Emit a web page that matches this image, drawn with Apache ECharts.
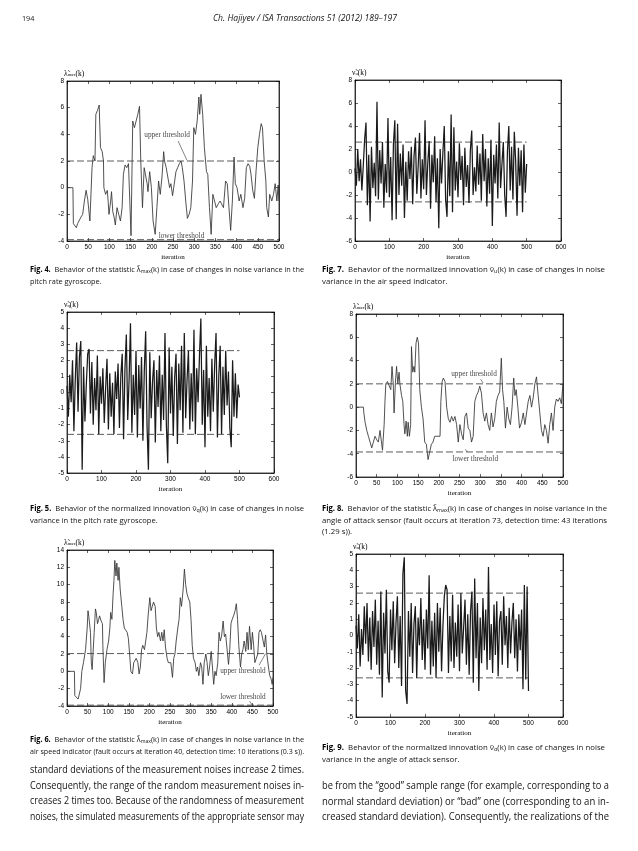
<!DOCTYPE html>
<html><head><meta charset="utf-8">
<script src="https://cdn.jsdelivr.net/npm/echarts@6/dist/echarts.min.js"></script>
<style>html,body{margin:0;padding:0;background:#fff;}#c{width:638px;height:851px;}</style>
</head><body><div id="c"></div><script>
// ---------- DATA ----------
// Fig.4 lambda_max (pitch rate gyro): [iteration, value]
const fig4Lambda = [[0,0],[14,0],[15,-2.7],[22,-3.0],[25,-2.7],[29,-2.6],[33,-2.2],[37,-2.0],[41,-1.0],[45,-0.2],[49,-0.9],[51,-1.0],[54,-2.5],[56,-2.4],[59,1.5],[62,2.4],[66,2.0],[68,5.5],[72,5.8],[76,6.2],[77,5.0],[79,3.0],[83,2.7],[86,2.0],[87,0],[91,-0.5],[95,-0.2],[97,-1.0],[99,-2.0],[103,-1.0],[105,-0.3],[108,-1.8],[111,-2.2],[114,-2.8],[118,-1.5],[122,-2.0],[126,-2.5],[130,-1.5],[133,1.0],[137,1.7],[141,1.5],[145,1.8],[147,1.7],[151,-3.6],[155,5.0],[159,4.5],[163,5.0],[167,5.5],[171,6.1],[174,2.0],[178,-1.5],[182,1.5],[185,1.6],[189,0.3],[191,-0.3],[195,1.2],[199,0.0],[203,-2.5],[208,-3.5],[212,-1.5],[216,0.5],[220,-0.5],[224,0.8],[228,2.7],[230,2.0],[234,1.5],[238,1.4],[242,0.0],[245,0.3],[249,-0.6],[253,-0.5],[257,1.2],[261,1.5],[265,1.8],[269,2.0],[272,1.5],[276,0.5],[280,-1.0],[284,-2.3],[288,-2.0],[292,-1.5],[296,0.5],[299,4.5],[303,4.0],[307,5.0],[311,6.8],[313,5.5],[316,7.0],[320,5.5],[324,3.0],[329,1.2],[332,1.0],[336,-1.5],[340,-3.5],[344,-0.5],[348,-1.0],[352,-1.5],[357,-1.2],[361,-1.0],[369,-1.5],[374,0.5],[378,0.3],[382,-1.5],[386,-3.2],[390,-1.0],[394,2.3],[397,0.3],[401,0.0],[406,-1.0],[410,-0.5],[415,-1.5],[419,-0.8],[423,1.5],[427,1.8],[431,1.6],[434,1.0],[438,-0.2],[442,-0.8],[446,1.3],[450,3.0],[454,4.0],[458,4.8],[461,4.5],[465,2.0],[469,0.5],[471,-1.5],[475,-2.2],[478,-0.5],[483,-1.0],[487,-0.5],[491,0.3],[495,-1.0],[498,0.2],[500,-1.0]];
const fig4Thresholds = [2, -3.9];
const fig4Notes = [{text:'upper threshold', at:[236,3.95]}, {text:'lower threshold', at:[270,-3.62]}];
const fig4Leaders = [[[262,3.5],[283,2.05]]];

// Fig.7 normalized innovation (air speed), one sample every 4 iterations
const fig7Noise = [0.3,-1.2,2.0,-0.8,1.1,-1.6,0.5,2.8,4.3,-2.9,
 1.5,-4.3,2.2,-1.4,0.8,-2.1,6.1,-2.4,1.9,-1.0,
 2.6,-3.1,0.7,-1.8,4.7,-2.2,1.3,-4.2,2.5,4.5,
 -4.1,4.2,-2.0,1.6,-1.2,2.4,-4.0,0.9,-2.5,1.8,
 -0.6,2.2,-2.8,1.4,3.0,-1.9,0.5,3.4,-2.3,1.1,
 -1.5,4.5,-2.0,0.8,2.7,-3.2,1.5,-0.9,3.1,-2.6,
 1.2,-4.9,2.0,-1.0,1.7,4.0,-2.4,-3.9,1.8,-2.1,
 5.0,-3.5,3.9,-1.6,0.9,-2.2,2.5,-0.7,1.4,-2.9,
 2.1,-1.3,0.6,-2.7,1.9,3.6,-2.0,0.4,-1.7,2.3,
 -1.1,1.6,-2.5,3.3,-0.8,2.0,-3.0,1.2,-1.9,2.8,
 -4.7,1.5,-1.0,2.4,-2.3,4.3,-1.4,0.7,2.6,-2.0,
 -3.9,1.8,4.0,-1.6,2.2,-2.4,3.5,0.9,-3.8,2.1,
 -1.2,1.9,-3.5,2.4,-1.8,0.7];
const fig7Thresholds = [2.6, -2.6];

// Fig.5 normalized innovation (pitch rate gyro)
const fig5Noise = [0.4,-1.5,1.1,-0.6,2.0,-2.4,0.8,3.1,-1.2,2.2,
 3.2,-4.8,1.6,-1.8,0.5,2.4,2.7,-1.3,1.9,-2.0,
 0.9,-1.1,2.3,-2.6,1.0,-0.7,1.5,-1.9,0.3,2.1,
 -2.3,1.2,-1.5,0.6,-2.6,1.3,-0.4,1.8,-2.2,1.0,
 2.4,-2.9,1.5,3.6,-1.7,0.8,4.3,-2.5,1.1,-1.4,
 2.6,-2.8,1.7,-1.0,2.2,-3.0,1.3,3.8,-2.1,-4.8,
 2.5,-1.6,0.7,2.0,-3.1,1.4,-0.9,2.3,-2.4,1.1,
 -1.7,3.7,-2.0,-4.4,2.8,-1.3,1.6,-2.7,0.9,2.4,
 -3.2,1.8,-1.1,2.9,-2.5,3.7,-1.6,0.8,2.6,-2.3,
 1.2,-1.8,3.9,-2.6,1.5,-0.6,2.3,4.6,-2.0,1.4,
 -3.4,2.9,-1.5,0.9,-2.4,2.1,-1.2,1.7,3.7,-2.8,
 1.0,2.9,-2.6,1.6,-1.4,2.6,-0.8,1.3,-2.2,-3.4,
 2.0,-1.5,1.2,-1.6,0.5,-0.3];
const fig5Thresholds = [2.6, -2.6];

// Fig.8 lambda_max (angle of attack sensor)
const fig8Lambda = [[0,0],[18,0],[19,-0.5],[22,-1.3],[26,-2.0],[30,-2.5],[34,-3.0],[38,-3.5],[42,-3.0],[46,-2.5],[50,-2.8],[54,-3.0],[58,-2.0],[62,-1.9],[64,-3.7],[68,-1.5],[70,0.5],[72,2.0],[76,2.2],[80,2.3],[84,1.5],[87,3.5],[90,2.0],[92,-0.5],[95,2.0],[98,3.5],[101,2.0],[104,3.0],[106,2.0],[110,1.0],[113,0.5],[116,-1.5],[118,-2.3],[121,-1.2],[124,-2.5],[126,-1.3],[129,-2.5],[132,-1.5],[134,5.2],[137,3.0],[140,3.5],[142,3.0],[145,5.5],[148,6.0],[151,5.5],[154,1.5],[158,0.0],[162,-1.0],[166,-3.0],[170,-3.2],[174,-4.5],[178,-4.6],[182,-3.2],[186,-3.0],[190,-2.5],[195,-2.5],[199,-2.4],[203,-2.5],[205,0.5],[208,2.2],[211,2.5],[215,2.2],[219,0.0],[223,-1.0],[227,-1.3],[231,-0.8],[235,-1.2],[239,-0.8],[243,-1.5],[247,-3.0],[251,-1.5],[255,-2.3],[259,-2.8],[263,-0.8],[267,-0.5],[271,-1.8],[275,-2.0],[279,-3.0],[283,-2.5],[287,0.5],[291,1.0],[295,1.3],[299,1.8],[303,1.2],[307,-0.5],[311,-1.2],[315,-0.5],[319,-1.5],[323,-2.0],[327,-0.5],[331,-1.7],[335,-1.0],[339,0.5],[343,1.0],[347,1.3],[351,4.2],[354,1.5],[357,0.5],[361,-1.8],[365,0.0],[369,-1.0],[373,-1.5],[377,0.0],[381,2.5],[384,1.0],[387,1.5],[391,0.0],[395,-1.8],[400,-1.3],[404,-0.5],[408,-1.5],[412,-0.5],[416,0.5],[420,1.0],[424,0.0],[428,0.8],[432,2.0],[436,2.6],[440,1.0],[444,-0.5],[448,-2.0],[452,-2.5],[456,-1.5],[460,-2.0],[464,-3.1],[468,-1.5],[472,-0.5],[476,-2.0],[480,0.0],[484,0.7],[488,0.5],[492,0.8],[496,0.3],[500,2.0]];
const fig8Thresholds = [2, -3.85];
const fig8Notes = [{text:'upper threshold', at:[285,2.85]}, {text:'lower threshold', at:[288,-4.47]}];
const fig8Leaders = [[[301,2.4],[307,2.08]], [[264,-3.62],[269,-3.85]]];

// Fig.6 lambda_max (air speed indicator)
const fig6Lambda = [[0,0],[18,0],[19,-2.8],[23,-3.0],[27,-3.2],[31,-3.4],[33,-2.0],[36,0.0],[40,1.0],[45,2.5],[49,5.0],[51,7.0],[53,6.3],[55,6.5],[57,4.5],[59,1.0],[61,0.2],[63,0.0],[66,4.5],[69,7.2],[71,6.8],[74,5.5],[77,6.0],[79,6.4],[83,5.8],[86,5.5],[87,3.0],[90,-1.3],[93,1.0],[97,2.5],[101,3.5],[104,5.0],[106,6.8],[109,6.0],[112,9.0],[114,10.5],[116,12.8],[119,11.0],[121,12.5],[124,10.5],[126,12.0],[129,9.5],[133,7.5],[136,6.0],[139,5.0],[142,4.8],[146,4.5],[149,3.8],[152,2.0],[155,0.0],[159,-0.3],[162,1.0],[165,1.2],[168,1.5],[172,1.0],[175,-0.3],[178,0.5],[181,2.5],[184,3.0],[188,2.5],[191,3.5],[194,4.5],[197,6.5],[201,8.5],[204,7.0],[207,7.5],[210,8.0],[214,7.5],[217,5.0],[220,4.0],[223,4.5],[227,3.5],[230,4.5],[233,3.5],[236,4.8],[239,2.8],[243,1.5],[246,1.0],[249,1.2],[252,1.0],[256,-0.7],[259,1.5],[262,2.0],[265,3.5],[269,5.0],[272,6.0],[275,8.5],[278,7.5],[282,9.5],[285,11.8],[288,10.0],[291,9.0],[294,8.5],[298,8.0],[301,6.0],[304,3.0],[307,1.5],[311,1.0],[314,0.0],[317,0.5],[320,-0.5],[324,1.0],[327,0.5],[330,-1.5],[333,1.0],[337,2.0],[340,1.0],[343,-0.5],[346,0.5],[350,2.3],[353,0.5],[356,-1.5],[359,0.0],[362,-0.5],[366,1.0],[369,4.5],[372,3.5],[375,4.0],[379,5.8],[382,4.0],[385,4.3],[388,2.8],[392,0.8],[395,2.5],[398,5.5],[401,6.0],[405,6.5],[408,7.0],[411,7.8],[414,6.0],[417,3.0],[421,0.5],[424,2.0],[427,2.5],[430,3.5],[434,2.3],[437,4.5],[440,2.5],[443,5.2],[447,2.5],[450,4.5],[453,3.0],[456,1.0],[460,1.0],[463,2.0],[466,4.5],[469,4.8],[472,4.5],[476,3.5],[479,2.8],[482,4.2],[485,2.0],[489,0.5],[492,-0.5],[495,-0.8],[498,-1.5],[500,-0.7]];
const fig6Thresholds = [2.05, -3.9];
const fig6Notes = [{text:'upper threshold', at:[427,0.05]}, {text:'lower threshold', at:[427,-3.0]}];
const fig6Leaders = [[[466,0.7],[482,2.05]], [[443,-3.45],[450,-3.9]]];

// Fig.9 normalized innovation (angle of attack sensor)
const fig9Noise = [0.6,-0.8,1.3,-1.9,0.4,-1.2,1.8,-0.5,2.0,-1.6,
 1.1,-2.1,1.5,-0.7,2.2,-1.8,0.9,-2.4,2.7,-3.8,
 1.4,-1.1,2.8,-2.2,-2.9,1.6,-0.9,2.1,-1.7,0.8,
 2.4,-2.0,1.2,-3.1,3.8,4.8,-3.4,-4.2,1.5,-1.3,
 2.0,-2.3,0.7,1.8,-2.6,1.1,-0.6,2.3,-1.5,1.0,
 -2.1,1.6,-0.8,3.7,-2.4,0.9,-1.9,1.4,-2.6,2.0,
 -1.0,1.7,-2.2,0.6,2.4,3.1,2.8,-2.3,1.2,-1.6,
 2.5,-2.0,0.8,-1.3,1.9,-2.2,2.6,-1.1,0.5,2.2,
 -1.8,1.3,-2.4,1.5,2.7,-2.9,3.5,-1.4,2.0,-3.4,
 1.1,-1.7,2.3,-0.9,1.6,-2.1,4.2,-1.5,0.7,-2.3,
 1.9,-1.2,2.1,-2.5,0.9,1.5,-1.8,2.4,-0.6,1.2,
 -2.0,1.7,-1.1,0.8,2.0,-1.4,1.0,-2.2,1.3,-0.9,
 1.6,-3.3,3.1,-2.7,3.0,-3.4];
const fig9Thresholds = [2.6, -2.6];
const NOISE_STEP = 4; // iterations between stored samples

const xTicks50 = [0,500,50], xTicks100 = [0,600,100];
// ---------- TEXT ----------
const headerPage = '194';
const headerJournal = 'Ch. Hajiyev / ISA Transactions 51 (2012) 189–197';
const captions = {
 fig4:['{b|Fig. 4.}  Behavior of the statistic λ̃{s|max}(k) in case of changes in noise variance in the','pitch rate gyroscope.'],
 fig7:['{b|Fig. 7.}  Behavior of the normalized innovation ν̃{s|u}(k) in case of changes in noise','variance in the air speed indicator.'],
 fig5:['{b|Fig. 5.}  Behavior of the normalized innovation ν̃{s|q}(k) in case of changes in noise','variance in the pitch rate gyroscope.'],
 fig8:['{b|Fig. 8.}  Behavior of the statistic λ̃{s|max}(k) in case of changes in noise variance in the','angle of attack sensor (fault occurs at iteration 73, detection time: 43 iterations','(1.29 s)).'],
 fig6:['{b|Fig. 6.}  Behavior of the statistic λ̃{s|max}(k) in case of changes in noise variance in the','air speed indicator (fault occurs at iteration 40, detection time: 10 iterations (0.3 s)).'],
 fig9:['{b|Fig. 9.}  Behavior of the normalized innovation ν̃{s|α}(k) in case of changes in noise','variance in the angle of attack sensor.']
};
const bodyLeft = ['standard deviations of the measurement noises increase 2 times.','Consequently, the range of the random measurement noises in-','creases 2 times too. Because of the randomness of measurement','noises, the simulated measurements of the appropriate sensor may'];
const bodyRight = ['be from the “good” sample range (for example, corresponding to a','normal standard deviation) or “bad” one (corresponding to an in-','creased standard deviation). Consequently, the realizations of the'];

// ---------- BUILD ----------
const SANS = '"Liberation Sans", Arial, sans-serif';
const SERIF = '"Liberation Serif", "Times New Roman", serif';
const TEXTF = '"Open Sans", "Noto Sans", sans-serif';
const INK = '#141414';

const panels = [
 {rect:{left:67,top:81,width:212,height:160}, x:xTicks50, y:[-4,8,2], name:'{a|λ̃}{s|max}{a|(k)}', lambda:fig4Lambda, thr:fig4Thresholds, notes:fig4Notes, leaders:fig4Leaders},
 {rect:{left:355,top:80,width:206,height:161}, x:xTicks100, y:[-6,8,2], name:'{a|ν̃}{s|u}{a|(k)}', noise:fig7Noise, thr:fig7Thresholds},
 {rect:{left:67,top:312,width:207,height:161}, x:xTicks100, y:[-5,5,1], name:'{a|ν̃}{s|q}{a|(k)}', noise:fig5Noise, thr:fig5Thresholds},
 {rect:{left:356,top:314,width:207,height:163}, x:xTicks50, y:[-6,8,2], name:'{a|λ̃}{s|max}{a|(k)}', lambda:fig8Lambda, thr:fig8Thresholds, notes:fig8Notes, leaders:fig8Leaders},
 {rect:{left:67,top:550,width:206,height:156}, x:xTicks50, y:[-4,14,2], name:'{a|λ̃}{s|max}{a|(k)}', lambda:fig6Lambda, thr:fig6Thresholds, notes:fig6Notes, leaders:fig6Leaders},
 {rect:{left:356,top:554,width:207,height:163}, x:xTicks100, y:[-5,5,1], name:'{a|ν̃}{s|α}{a|(k)}', noise:fig9Noise, thr:fig9Thresholds}
];

const grid=[], xAxis=[], yAxis=[], series=[];
const axLine = {show:true, onZero:false, lineStyle:{color:'#000', width:0.7}};
const tick = {show:true, inside:true, length:3, lineStyle:{color:'#000', width:0.6}};
panels.forEach((p,i)=>{
 grid.push(Object.assign({show:true, borderColor:'#000', borderWidth:0.7, backgroundColor:'#fff', outerBoundsMode:'none', containLabel:false}, p.rect));
 xAxis.push({gridIndex:i, type:'value', min:p.x[0], max:p.x[1], interval:p.x[2], position:'bottom',
   axisLine:axLine, axisTick:tick, splitLine:{show:false},
   axisLabel:{fontSize:6.5, color:'#000', margin:3, fontFamily:SANS, showMinLabel:true, showMaxLabel:true},
   name:'iteration', nameLocation:'middle', nameGap:13, nameTextStyle:{fontSize:7, fontFamily:SERIF, color:'#000'}});
 xAxis.push({gridIndex:i, type:'value', min:p.x[0], max:p.x[1], interval:p.x[2], position:'top',
   axisLine:axLine, axisTick:tick, axisLabel:{show:false}, splitLine:{show:false}});
 yAxis.push({gridIndex:i, type:'value', min:p.y[0], max:p.y[1], interval:p.y[2], position:'left',
   axisLine:axLine, axisTick:tick, splitLine:{show:false},
   axisLabel:{fontSize:6.5, color:'#000', margin:3, fontFamily:SANS},
   name:p.name, nameLocation:'end', nameGap:3,
   nameTextStyle:{align:'left', verticalAlign:'bottom', padding:[0,0,0,-3],
     rich:{a:{fontSize:7.5, fontFamily:SERIF, color:'#000', verticalAlign:'bottom'}, s:{fontSize:4.5, fontFamily:SERIF, color:'#000', verticalAlign:'bottom'}}}});
 yAxis.push({gridIndex:i, type:'value', min:p.y[0], max:p.y[1], interval:p.y[2], position:'right',
   axisLine:axLine, axisTick:tick, axisLabel:{show:false}, splitLine:{show:false}});
 const xi = 2*i, yi = 2*i;
 const xEnd = 500;
 if (p.lambda) {
   series.push({type:'line', xAxisIndex:xi, yAxisIndex:yi, data:p.lambda, symbol:'none', silent:true,
     lineStyle:{color:'#333', width:0.85}, z:3});
 }
 if (p.noise) {
   series.push({type:'line', xAxisIndex:xi, yAxisIndex:yi, data:p.noise.map((v,k)=>[k*NOISE_STEP, v]), symbol:'none', silent:true,
     lineStyle:{color:'#1a1a1a', width:1.25}, z:3});
 }
 p.thr.forEach(t=>{
   series.push({type:'line', xAxisIndex:xi, yAxisIndex:yi, data:[[p.x[0],t],[xEnd,t]], symbol:'none', silent:true,
     lineStyle:{color:'#333', width:0.8, type:[7,3]}, z:2});
 });
 (p.leaders||[]).forEach(seg=>{
   series.push({type:'line', xAxisIndex:xi, yAxisIndex:yi, data:seg, symbol:'none', silent:true,
     lineStyle:{color:'#333', width:0.6}, z:4});
 });
 (p.notes||[]).forEach(n=>{
   series.push({type:'scatter', xAxisIndex:xi, yAxisIndex:yi, data:[n.at], symbolSize:0, silent:true, clip:false, z:5,
     label:{show:true, position:[0,0], align:'center', verticalAlign:'middle', formatter:n.text,
       fontSize:7.3, fontFamily:SERIF, color:'#111'}});
 });
});

// ---- text graphics, compressed horizontally to the column width ----
const ctx = document.createElement('canvas').getContext('2d');
function measure(line, fs, italic){
 let w = 0; const re = /\{(\w)\|([^}]*)\}|([^{]+)/g; let m;
 const it = italic ? 'italic ' : '';
 while ((m = re.exec(line))) {
   if (m[3] !== undefined) { ctx.font = it+fs+'px '+TEXTF; w += ctx.measureText(m[3]).width; }
   else if (m[1]==='b') { ctx.font = 'bold '+fs+'px '+TEXTF; w += ctx.measureText(m[2]).width; }
   else { ctx.font = (fs*0.7)+'px '+TEXTF; w += ctx.measureText(m[2]).width; }
 }
 return w;
}
const graphic = [];
function txt(x,y,text,fs,scale,opt){
 opt = opt||{};
 graphic.push({type:'text', x:x, y:y, scaleX:scale, silent:true, style:{text:text, fontSize:fs, fontFamily:TEXTF, fontStyle:opt.italic?'italic':'normal',
   fill:INK, verticalAlign:'middle', align:opt.align||'left',
   rich:{b:{fontWeight:'bold', fontSize:fs, fontFamily:TEXTF, fill:'#000'}, s:{fontSize:fs*0.7, fontFamily:TEXTF, fill:INK, verticalAlign:'bottom', padding:[3,0,0,0]}}}});
}
// paragraph: first nFull lines justified to width, remaining lines at the same compression
function para(x, y0, dy, lines, fs, width, nFull){
 let lastScale = 0.85;
 lines.forEach((l,k)=>{
   let s;
   if (k < nFull) { s = width / measure(l, fs); lastScale = s; }
   else s = lastScale;
   txt(x, y0 + k*dy, l, fs, s);
 });
}
txt(22,19,headerPage,8,0.9);
txt(305,19,headerJournal,8.6,184/measure(headerJournal,8.6,true),{italic:true, align:'center'});
const CAPF = 8, CAPDY = 11.3, LW = 274, RW = 285;
para(30,270,CAPDY,captions.fig4,CAPF,LW,1);
para(322,270,CAPDY,captions.fig7,CAPF,283,1);
para(30,509,CAPDY,captions.fig5,CAPF,LW,1);
para(322,509,CAPDY,captions.fig8,CAPF,RW,2);
para(30,740,CAPDY,captions.fig6,CAPF,LW,2);
para(322,748,CAPDY,captions.fig9,CAPF,283,1);
para(30,770,15.5,bodyLeft,10.6,LW,4);
para(322,786,15.5,bodyRight,10.6,287,3);

const chart = echarts.init(document.getElementById('c'));
chart.setOption({animation:false, backgroundColor:'#fff', grid, xAxis, yAxis, series, graphic});
</script></body></html>
